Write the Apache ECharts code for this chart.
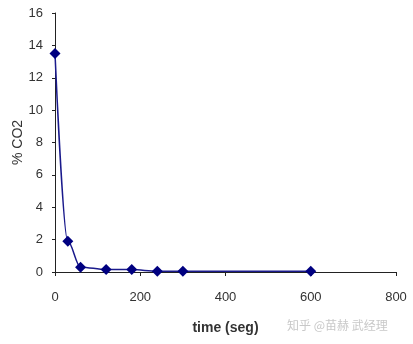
<!DOCTYPE html>
<html><head><meta charset="utf-8">
<script src="https://cdn.jsdelivr.net/npm/echarts@6/dist/echarts.min.js"></script>
<style>html,body{margin:0;padding:0;background:#fff}#c{width:413px;height:344px}</style>
</head><body><div id="c"></div>
<script>
const timeSeg = [0, 30, 60, 120, 180, 240, 300, 600];
const co2 = [13.5, 1.9, 0.3, 0.15, 0.15, 0.05, 0.05, 0.05];
const xTicks = [0, 200, 400, 600, 800];
const yTicks = [0, 2, 4, 6, 8, 10, 12, 14, 16];
const xTitle = 'time (seg)';
const yTitle = '% CO2';
const watermark = '知乎 @苗赫 武经理';

const chart = echarts.init(document.getElementById('c'));
chart.setOption({
  animation: false,
  grid: { left: 55, right: 17, top: 13, bottom: 72, containLabel: false, outerBoundsMode: 'none' },
  xAxis: {
    type: 'value', min: xTicks[0], max: xTicks[xTicks.length - 1], interval: 200,
    name: xTitle, nameLocation: 'middle', nameGap: 49, nameMoveOverlap: false,
    nameTextStyle: { fontFamily: 'Liberation Sans', fontSize: 14, fontWeight: 'bold', color: '#333' },
    axisLine: { lineStyle: { color: '#222', width: 1 } },
    axisTick: { show: true, length: 4, lineStyle: { color: '#222' } },
    axisLabel: { fontFamily: 'Liberation Sans', fontSize: 13, color: '#333', margin: 19 },
    splitLine: { show: false }
  },
  yAxis: {
    type: 'value', min: yTicks[0], max: yTicks[yTicks.length - 1], interval: 2,
    name: yTitle, nameLocation: 'middle', nameGap: 30, nameRotate: 90, nameMoveOverlap: false,
    nameTextStyle: { fontFamily: 'Liberation Sans', fontSize: 14, color: '#333' },
    axisLine: { show: true, lineStyle: { color: '#222', width: 1 } },
    axisTick: { show: true, length: 3, lineStyle: { color: '#222' } },
    axisLabel: { fontFamily: 'Liberation Sans', fontSize: 13, color: '#333', margin: 12 },
    splitLine: { show: false }
  },
  graphic: [{
    type: 'text', left: 287, top: 319,
    style: { text: watermark, fill: '#c8c8c8', fontSize: 12, fontFamily: 'Noto Sans CJK SC' }
  }],
  series: [{
    type: 'line',
    data: timeSeg.map((t, i) => [t, co2[i]]),
    smooth: 0.35,
    smoothMonotone: 'x',
    symbol: 'diamond', symbolSize: 11,
    itemStyle: { color: '#000080' },
    lineStyle: { color: '#1a1a8c', width: 1.5 }
  }]
});
</script></body></html>
